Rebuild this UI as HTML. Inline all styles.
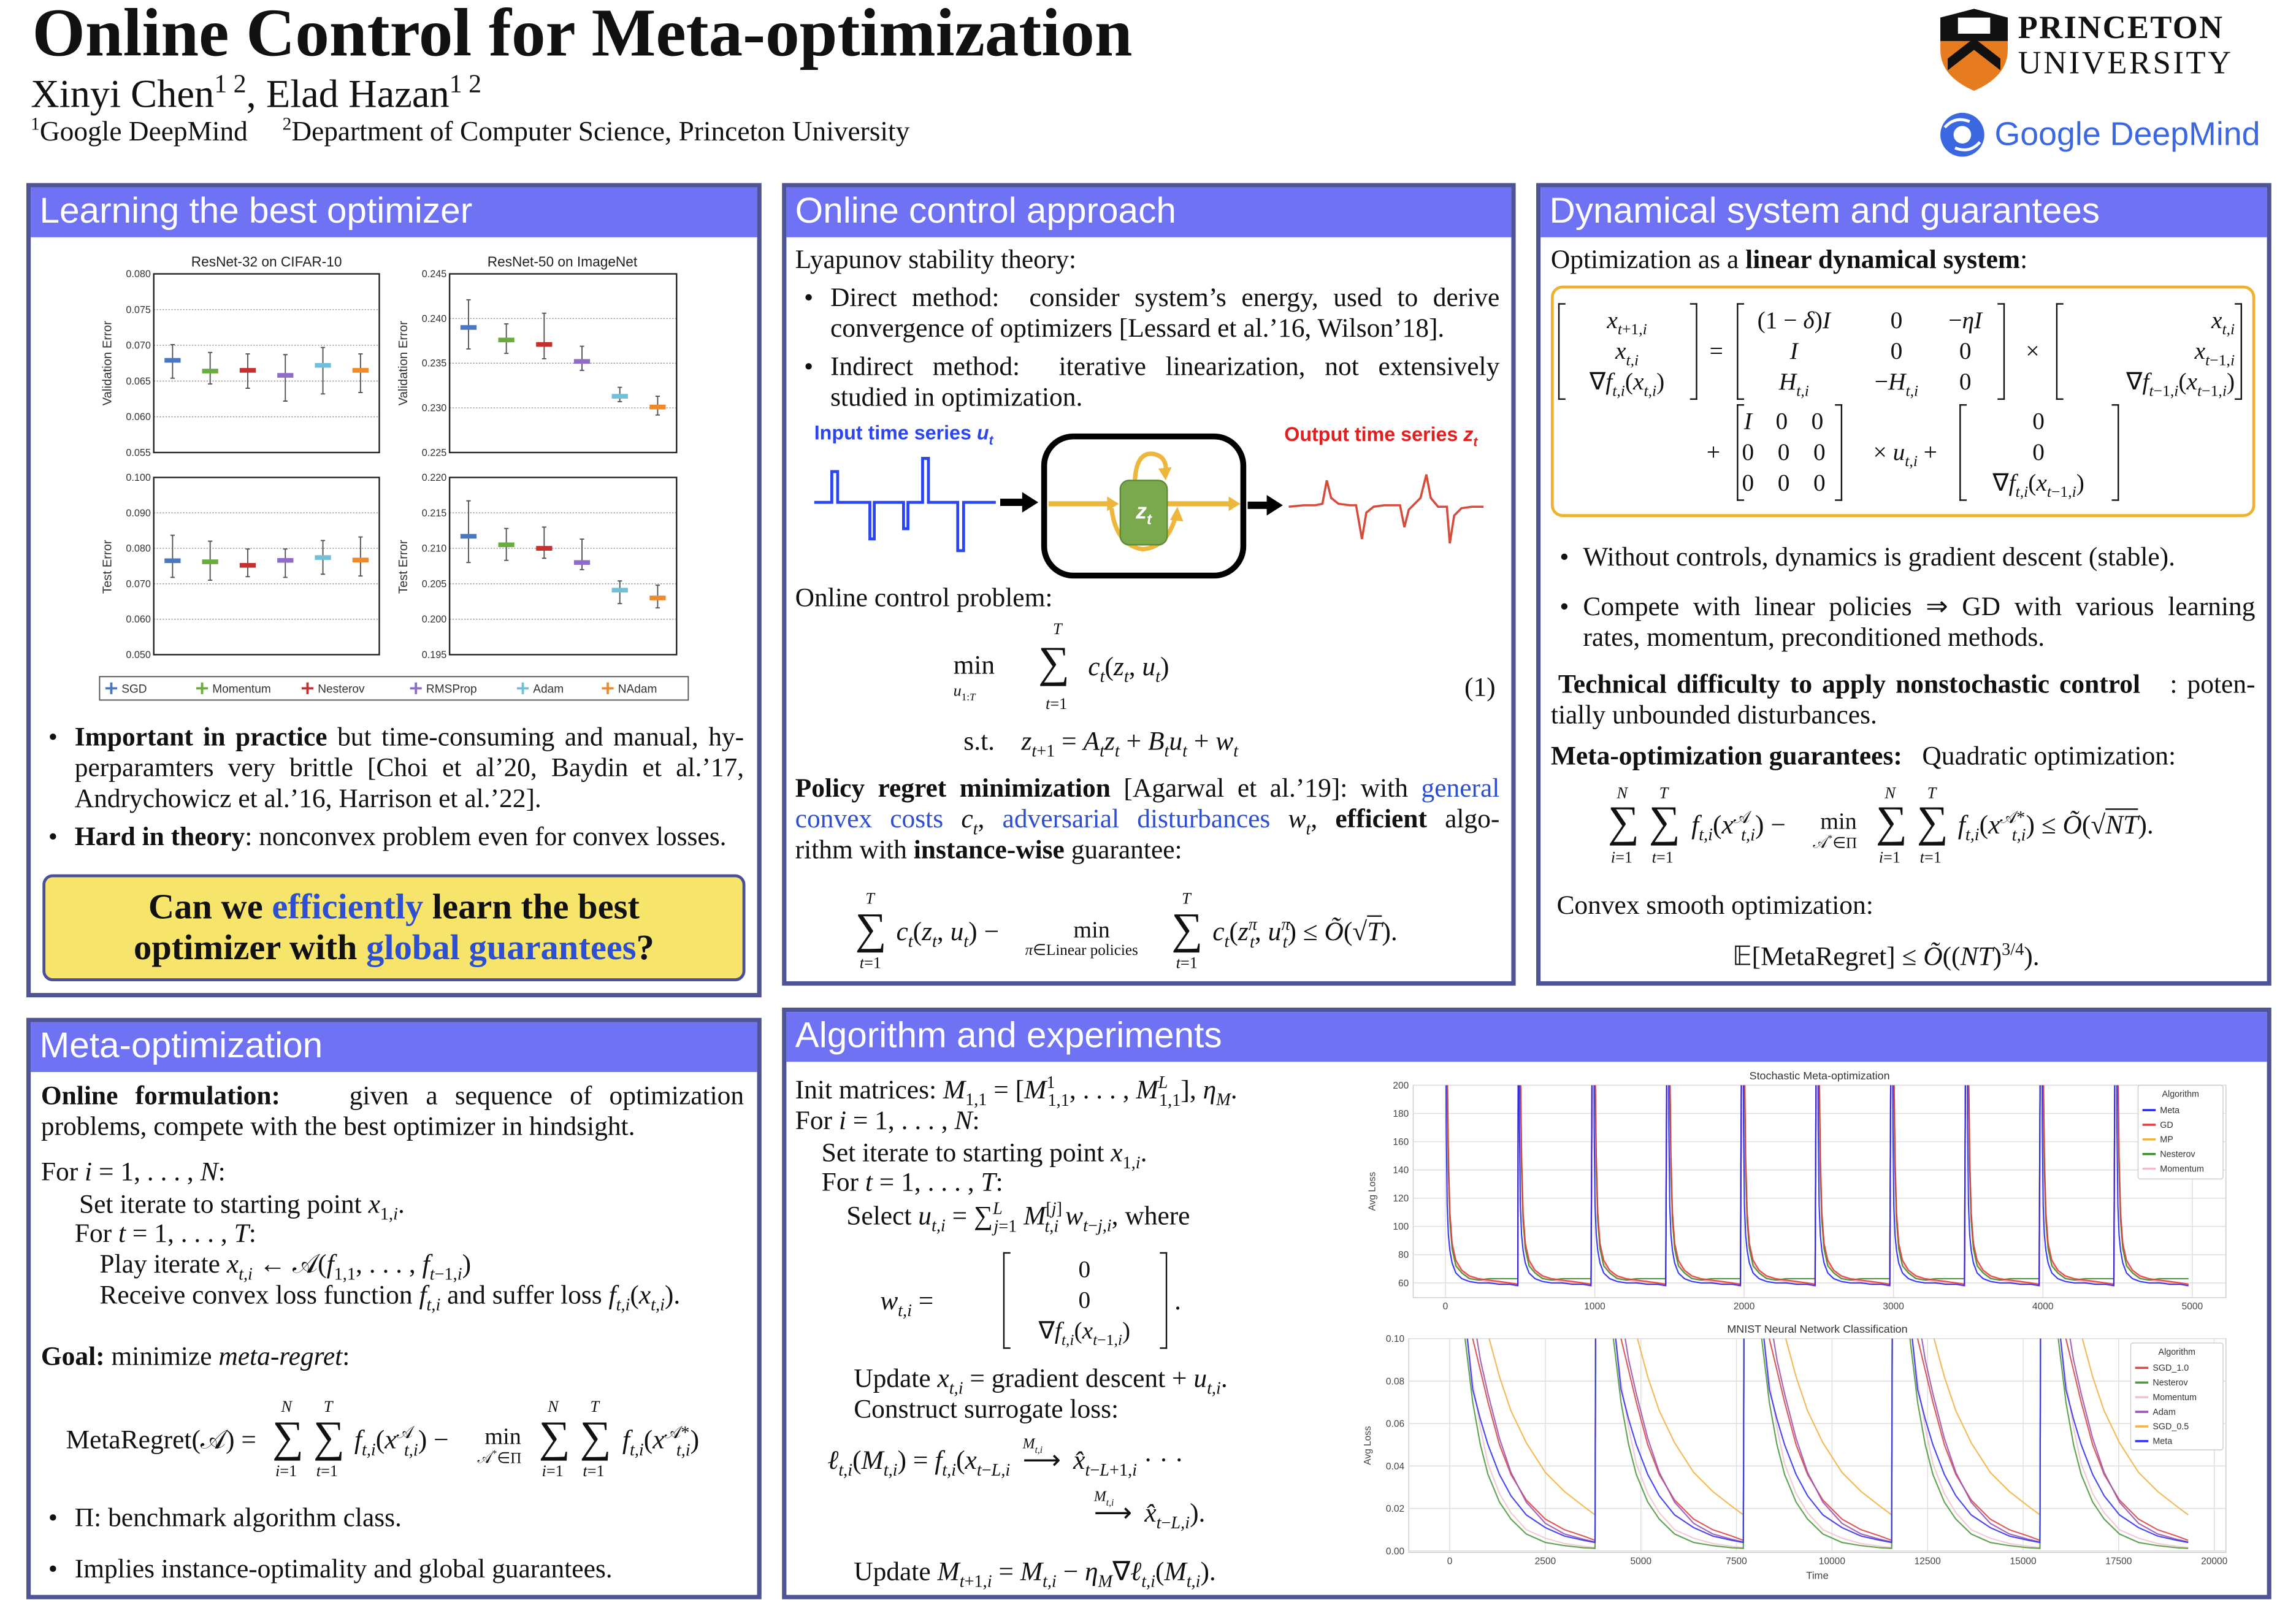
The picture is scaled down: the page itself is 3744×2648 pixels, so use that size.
<!DOCTYPE html>
<html><head><meta charset="utf-8"><style>
html,body{margin:0;padding:0;background:#fff}
body{width:3744px;height:2648px;overflow:hidden}
#root{position:absolute;left:0;top:0;width:1568px;height:1109px;transform:scale(2.388);transform-origin:0 0;font-family:"Liberation Serif",serif;color:#111}
.t{position:absolute;white-space:nowrap;font-size:18.2px;line-height:22px}
.j{text-align:justify;text-align-last:justify}
.panel{position:absolute;border:3px solid #4f5496;box-sizing:border-box;background:#fff}
.hdr{position:absolute;left:0;top:0;right:0;height:34px;background:#6e72f3;color:#fff;font-family:"Liberation Sans",sans-serif;font-size:24.5px;line-height:34px;padding-left:6px}
i{font-style:italic}
sub,sup{font-size:65%;line-height:0}
.lb,.rb{position:absolute;width:5px;border:1.4px solid #111;box-sizing:border-box}
.lb{border-right:none}.rb{border-left:none}
.c{position:absolute;white-space:nowrap;font-size:16.5px;line-height:20px;text-align:center}
.sm{position:absolute;white-space:nowrap;font-size:11px;line-height:12px;text-align:center}
.big{position:absolute;font-size:30px;line-height:30px}
</style></head><body>
<div id="root">

<div class="t" style="left:22px;top:-2px;font-size:46.5px;line-height:52px;font-weight:bold">Online Control for Meta-optimization</div>
<div class="t" style="left:21px;top:49px;font-size:27px;line-height:30px">Xinyi Chen<sup>1 2</sup>, Elad Hazan<sup>1 2</sup></div>
<div class="t" style="left:21px;top:80px;font-size:19px"><sup>1</sup>Google DeepMind &nbsp;&nbsp;&nbsp;&nbsp;<sup>2</sup>Department of Computer Science, Princeton University</div>

<svg style="position:absolute;left:1322px;top:4px" width="52" height="60" viewBox="0 0 52 60">
<path d="M3 8 L26 2 L49 8 L49 30 Q49 48 26 58 Q3 48 3 30 Z" fill="#e77b20"/>
<path d="M3 8 L26 2 L49 8 L49 24 L3 24 Z" fill="#111"/>
<path d="M8 44 L26 30 L44 44 L44 36 L26 22 L8 36 Z" fill="#111"/>
<rect x="15" y="8" width="22" height="11" fill="#fff"/>
</svg>
<div class="t" style="left:1378px;top:8px;font-size:22px;font-weight:bold;letter-spacing:1px">PRINCETON</div>
<div class="t" style="left:1378px;top:32px;font-size:22px;letter-spacing:1.5px">UNIVERSITY</div>
<svg style="position:absolute;left:1323px;top:75px" width="34" height="34" viewBox="0 0 34 34">
<circle cx="17" cy="17" r="15" fill="#3b68e0"/><circle cx="17" cy="17" r="6" fill="#fff"/>
<path d="M5 12 Q12 4 22 8" stroke="#fff" stroke-width="2" fill="none"/><path d="M29 22 Q22 30 12 26" stroke="#fff" stroke-width="2" fill="none"/>
</svg>
<div class="t" style="left:1362px;top:78px;font-family:'Liberation Sans',sans-serif;font-size:22.5px;line-height:28px;color:#3b68e0">Google DeepMind</div>

<!-- Panel 1 -->
<div class="panel" style="left:18px;top:125px;width:502px;height:556px"><div class="hdr">Learning the best optimizer</div></div>
<div class="t" style="left:33px;top:492px">•</div>
<div class="t j" style="left:51px;top:492px;width:457px"><b>Important in practice</b> but time-consuming and manual, hy-</div>
<div class="t j" style="left:51px;top:513px;width:457px">perparamters very brittle [Choi et al’20, Baydin et al.’17,</div>
<div class="t" style="left:51px;top:534px">Andrychowicz et al.’16, Harrison et al.’22].</div>
<div class="t" style="left:33px;top:560px">•</div>
<div class="t" style="left:51px;top:560px"><b>Hard in theory</b>: nonconvex problem even for convex losses.</div>
<div style="position:absolute;left:29px;top:597px;width:480px;height:73px;box-sizing:border-box;background:#f6e46b;border:2px solid #4a4f9a;border-radius:7px;text-align:center;font-weight:bold;font-size:24.5px;line-height:28px;padding-top:7px">Can we <span style="color:#2d4fd0">efficiently</span> learn the best<br>optimizer with <span style="color:#2d4fd0">global guarantees</span>?</div>

<!-- Panel 2 -->
<div class="panel" style="left:534px;top:125px;width:501px;height:548px"><div class="hdr">Online control approach</div></div>
<div class="t" style="left:543px;top:166px">Lyapunov stability theory:</div>
<div class="t" style="left:549px;top:192px">•</div>
<div class="t j" style="left:567px;top:192px;width:457px">Direct method: &nbsp;consider system’s energy, used to derive</div>
<div class="t" style="left:567px;top:213px">convergence of optimizers [Lessard et al.’16, Wilson’18].</div>
<div class="t" style="left:549px;top:239px">•</div>
<div class="t j" style="left:567px;top:239px;width:457px">Indirect method: &nbsp;iterative linearization, not extensively</div>
<div class="t" style="left:567px;top:260px">studied in optimization.</div>
<div class="t" style="left:556px;top:287px;font-family:'Liberation Sans',sans-serif;font-weight:bold;font-size:13.5px;line-height:18px;color:#2b45f0">Input time series <i>u<sub>t</sub></i></div>
<div class="t" style="left:877px;top:288px;font-family:'Liberation Sans',sans-serif;font-weight:bold;font-size:13.5px;line-height:18px;color:#e02020">Output time series <i>z<sub>t</sub></i></div>
<svg style="position:absolute;left:550px;top:290px" width="470" height="110" viewBox="550 290 470 110">
<polyline points="556,343 568,343 568,322 572,322 572,343 594,343 594,368 597,368 597,343 617,343 617,361 620,361 620,343 630,343 630,313 634,313 634,343 654,343 654,376 658,376 658,343 680,343" fill="none" stroke="#2b45f0" stroke-width="2"/>
<path d="M683 343 L700 343" stroke="#000" stroke-width="5"/><path d="M698 336 L709 343 L698 350 Z" fill="#000"/>
<rect x="713" y="298" width="136" height="95" rx="20" fill="none" stroke="#000" stroke-width="4"/>
<path d="M716 344 L758 344" stroke="#ecb73c" stroke-width="3.5"/><path d="M756 339 L764 344 L756 349Z" fill="#ecb73c"/>
<path d="M796 344 L840 344" stroke="#ecb73c" stroke-width="3.5"/><path d="M839 339 L847 344 L839 349Z" fill="#ecb73c"/>
<path d="M775 328 Q776 308 788 310 Q797 312 796 322" fill="none" stroke="#ecb73c" stroke-width="3"/><path d="M791 320 L796 328 L800 319Z" fill="#ecb73c"/>
<path d="M759 347 Q762 372 780 375 Q797 374 803 352" fill="none" stroke="#ecb73c" stroke-width="3"/><path d="M799 355 L804 346 L808 356Z" fill="#ecb73c"/>
<rect x="765" y="328" width="32" height="44" rx="6" fill="#7aa84c" stroke="#5f8a38" stroke-width="1"/>
<text x="781" y="354" text-anchor="middle" font-family="Liberation Sans" font-weight="bold" font-style="italic" font-size="15" fill="#fff">z<tspan font-size="10" dy="4">t</tspan></text>
<path d="M852 345 L866 345" stroke="#000" stroke-width="5"/><path d="M865 338 L876 345 L865 352 Z" fill="#000"/>
<polyline points="880,346 890,345 898,345 903,344 906,328 909,340 914,344 922,345 926,345 930,368 933,350 938,346 945,345 952,345 956,345 959,360 962,348 966,344 970,340 974,324 977,340 982,346 988,346 990,371 993,352 998,347 1005,346 1013,346" fill="none" stroke="#d84a3a" stroke-width="1.5"/>
</svg>
<div class="t" style="left:543px;top:397px">Online control problem:</div>
<div class="t" style="left:651px;top:443px">min</div>
<div class="sm" style="left:651px;top:466px"><i>u</i><sub>1:<i>T</i></sub></div>
<div class="big" style="left:709px;top:438px">∑</div>
<div class="sm" style="left:719px;top:424px"><i>T</i></div>
<div class="sm" style="left:714px;top:475px"><i>t</i>=1</div>
<div class="t" style="left:743px;top:444px"><i>c<sub>t</sub></i>(<i>z<sub>t</sub></i>, <i>u<sub>t</sub></i>)</div>
<div class="t" style="left:1000px;top:458px">(1)</div>
<div class="t" style="left:658px;top:495px">s.t. &nbsp;&nbsp;&nbsp;<i>z</i><sub><i>t</i>+1</sub> = <i>A<sub>t</sub>z<sub>t</sub></i> + <i>B<sub>t</sub>u<sub>t</sub></i> + <i>w<sub>t</sub></i></div>
<div class="t j" style="left:543px;top:527px;width:481px"><b>Policy regret minimization</b> [Agarwal et al.’19]: with <span style="color:#2d4fd0">general</span></div>
<div class="t j" style="left:543px;top:548px;width:481px"><span style="color:#2d4fd0">convex costs</span> <i>c<sub>t</sub></i>, <span style="color:#2d4fd0">adversarial disturbances</span> <i>w<sub>t</sub></i>, <b>efficient</b> algo-</div>
<div class="t" style="left:543px;top:569px">rithm with <b>instance-wise</b> guarantee:</div>
<div class="big" style="left:584px;top:620px">∑</div>
<div class="sm" style="left:591px;top:608px"><i>T</i></div>
<div class="sm" style="left:587px;top:652px"><i>t</i>=1</div>
<div class="t" style="left:612px;top:625px"><i>c<sub>t</sub></i>(<i>z<sub>t</sub></i>, <i>u<sub>t</sub></i>) −</div>
<div class="t" style="left:733px;top:625px;font-size:16px">min</div>
<div class="sm" style="left:700px;top:644px;font-size:10.5px"><i>π</i>∈Linear policies</div>
<div class="big" style="left:800px;top:620px">∑</div>
<div class="sm" style="left:807px;top:608px"><i>T</i></div>
<div class="sm" style="left:803px;top:652px"><i>t</i>=1</div>
<div class="t" style="left:828px;top:625px"><i>c<sub>t</sub></i>(<i>z</i><sup><i>π</i></sup><sub style="margin-left:-5px"><i>t</i></sub>, <i>u</i><sup><i>π</i></sup><sub style="margin-left:-5px"><i>t</i></sub>) ≤ <i>Õ</i>(√<span style="text-decoration:overline"><i>T</i></span>).</div>

<!-- Panel 3 -->
<div class="panel" style="left:1049px;top:125px;width:502px;height:548px"><div class="hdr">Dynamical system and guarantees</div></div>
<div class="t" style="left:1059px;top:166px">Optimization as a <b>linear dynamical system</b>:</div>
<div style="position:absolute;left:1059px;top:195px;width:481px;height:158px;box-sizing:border-box;border:2px solid #f0b030;border-radius:8px"></div>
<div class="lb" style="left:1064px;top:207px;height:66px"></div>
<div class="rb" style="left:1154px;top:207px;height:66px"></div>
<div class="c" style="left:1068px;top:209px;width:86px"><i>x</i><sub><i>t</i>+1,<i>i</i></sub></div>
<div class="c" style="left:1068px;top:230px;width:86px"><i>x<sub>t,i</sub></i></div>
<div class="c" style="left:1068px;top:251px;width:86px">∇<i>f<sub>t,i</sub></i>(<i>x<sub>t,i</sub></i>)</div>
<div class="c" style="left:1164px;top:230px;width:16px">=</div>
<div class="lb" style="left:1186px;top:207px;height:66px"></div>
<div class="rb" style="left:1364px;top:207px;height:66px"></div>
<div class="c" style="left:1190px;top:209px;width:70px">(1 − <i>δ</i>)<i>I</i></div>
<div class="c" style="left:1275px;top:209px;width:40px">0</div>
<div class="c" style="left:1320px;top:209px;width:44px">−<i>ηI</i></div>
<div class="c" style="left:1190px;top:230px;width:70px"><i>I</i></div>
<div class="c" style="left:1275px;top:230px;width:40px">0</div>
<div class="c" style="left:1320px;top:230px;width:44px">0</div>
<div class="c" style="left:1190px;top:251px;width:70px"><i>H<sub>t,i</sub></i></div>
<div class="c" style="left:1268px;top:251px;width:54px">−<i>H<sub>t,i</sub></i></div>
<div class="c" style="left:1320px;top:251px;width:44px">0</div>
<div class="c" style="left:1380px;top:230px;width:16px">×</div>
<div class="lb" style="left:1404px;top:207px;height:66px"></div>
<div class="rb" style="left:1526px;top:207px;height:66px"></div>
<div class="c" style="left:1408px;top:209px;width:118px;text-align:right"><i>x<sub>t,i</sub></i></div>
<div class="c" style="left:1408px;top:230px;width:118px;text-align:right"><i>x</i><sub><i>t</i>−1,<i>i</i></sub></div>
<div class="c" style="left:1408px;top:251px;width:118px;text-align:right">∇<i>f</i><sub><i>t</i>−1,<i>i</i></sub>(<i>x</i><sub><i>t</i>−1,<i>i</i></sub>)</div>
<div class="c" style="left:1162px;top:299px;width:16px">+</div>
<div class="lb" style="left:1186px;top:276px;height:66px"></div>
<div class="rb" style="left:1253px;top:276px;height:66px"></div>
<div class="c" style="left:1189px;top:278px;width:64px;letter-spacing:6px"><i>I</i> 0 0</div>
<div class="c" style="left:1189px;top:299px;width:64px;letter-spacing:6px">0 0 0</div>
<div class="c" style="left:1189px;top:320px;width:64px;letter-spacing:6px">0 0 0</div>
<div class="c" style="left:1266px;top:299px;width:70px">× <i>u<sub>t,i</sub></i> +</div>
<div class="lb" style="left:1338px;top:276px;height:66px"></div>
<div class="rb" style="left:1442px;top:276px;height:66px"></div>
<div class="c" style="left:1342px;top:278px;width:100px">0</div>
<div class="c" style="left:1342px;top:299px;width:100px">0</div>
<div class="c" style="left:1342px;top:320px;width:100px">∇<i>f<sub>t,i</sub></i>(<i>x</i><sub><i>t</i>−1,<i>i</i></sub>)</div>
<div class="t" style="left:1065px;top:369px">•</div>
<div class="t" style="left:1081px;top:369px">Without controls, dynamics is gradient descent (stable).</div>
<div class="t" style="left:1065px;top:403px">•</div>
<div class="t j" style="left:1081px;top:403px;width:459px">Compete with linear policies ⇒ GD with various learning</div>
<div class="t" style="left:1081px;top:424px">rates, momentum, preconditioned methods.</div>
<div class="t j" style="left:1064px;top:456px;width:476px"><b>Technical difficulty to apply nonstochastic control</b> &nbsp;&nbsp;: poten-</div>
<div class="t" style="left:1059px;top:477px">tially unbounded disturbances.</div>
<div class="t" style="left:1059px;top:505px"><b>Meta-optimization guarantees:</b> &nbsp;&nbsp;Quadratic optimization:</div>
<div class="big" style="left:1098px;top:547px">∑</div>
<div class="sm" style="left:1104px;top:536px"><i>N</i></div>
<div class="sm" style="left:1100px;top:580px"><i>i</i>=1</div>
<div class="big" style="left:1126px;top:547px">∑</div>
<div class="sm" style="left:1133px;top:536px"><i>T</i></div>
<div class="sm" style="left:1128px;top:580px"><i>t</i>=1</div>
<div class="t" style="left:1155px;top:552px"><i>f<sub>t,i</sub></i>(<i>x</i><sup>𝒜</sup><sub style="margin-left:-6px"><i>t,i</i></sub>) −</div>
<div class="t" style="left:1243px;top:551px;font-size:16px">min</div>
<div class="sm" style="left:1238px;top:571px;font-size:10.5px">𝒜<sup>*</sup>∈Π</div>
<div class="big" style="left:1281px;top:547px">∑</div>
<div class="sm" style="left:1287px;top:536px"><i>N</i></div>
<div class="sm" style="left:1283px;top:580px"><i>i</i>=1</div>
<div class="big" style="left:1309px;top:547px">∑</div>
<div class="sm" style="left:1316px;top:536px"><i>T</i></div>
<div class="sm" style="left:1311px;top:580px"><i>t</i>=1</div>
<div class="t" style="left:1337px;top:552px"><i>f<sub>t,i</sub></i>(<i>x</i><sup>𝒜*</sup><sub style="margin-left:-9px"><i>t,i</i></sub>) ≤ <i>Õ</i>(√<span style="text-decoration:overline"><i>NT</i></span>).</div>
<div class="t" style="left:1063px;top:607px">Convex smooth optimization:</div>
<div class="t" style="left:1183px;top:642px">𝔼[MetaRegret] ≤ <i>Õ</i>((<i>NT</i>)<sup>3/4</sup>).</div>

<!-- Panel 4 -->
<div class="panel" style="left:18px;top:695px;width:502px;height:397px"><div class="hdr">Meta-optimization</div></div>
<div class="t j" style="left:28px;top:737px;width:480px"><b>Online formulation:</b> &nbsp;&nbsp;&nbsp;given a sequence of optimization</div>
<div class="t" style="left:28px;top:758px">problems, compete with the best optimizer in hindsight.</div>
<div class="t" style="left:28px;top:789px">For <i>i</i> = 1, . . . , <i>N</i>:</div>
<div class="t" style="left:54px;top:811px">Set iterate to starting point <i>x</i><sub>1,<i>i</i></sub>.</div>
<div class="t" style="left:51px;top:831px">For <i>t</i> = 1, . . . , <i>T</i>:</div>
<div class="t" style="left:68px;top:852px">Play iterate <i>x<sub>t,i</sub></i> ← 𝒜(<i>f</i><sub>1,1</sub>, . . . , <i>f</i><sub><i>t</i>−1,<i>i</i></sub>)</div>
<div class="t" style="left:68px;top:873px">Receive convex loss function <i>f<sub>t,i</sub></i> and suffer loss <i>f<sub>t,i</sub></i>(<i>x<sub>t,i</sub></i>).</div>
<div class="t" style="left:28px;top:915px"><b>Goal:</b> minimize <i>meta-regret</i>:</div>
<div class="t" style="left:45px;top:972px">MetaRegret(𝒜) =</div>
<div class="big" style="left:186px;top:967px">∑</div>
<div class="sm" style="left:192px;top:955px"><i>N</i></div>
<div class="sm" style="left:188px;top:999px"><i>i</i>=1</div>
<div class="big" style="left:214px;top:967px">∑</div>
<div class="sm" style="left:221px;top:955px"><i>T</i></div>
<div class="sm" style="left:216px;top:999px"><i>t</i>=1</div>
<div class="t" style="left:242px;top:972px"><i>f<sub>t,i</sub></i>(<i>x</i><sup>𝒜</sup><sub style="margin-left:-6px"><i>t,i</i></sub>) −</div>
<div class="t" style="left:331px;top:971px;font-size:16px">min</div>
<div class="sm" style="left:326px;top:991px;font-size:10.5px">𝒜<sup>*</sup>∈Π</div>
<div class="big" style="left:368px;top:967px">∑</div>
<div class="sm" style="left:374px;top:955px"><i>N</i></div>
<div class="sm" style="left:370px;top:999px"><i>i</i>=1</div>
<div class="big" style="left:396px;top:967px">∑</div>
<div class="sm" style="left:403px;top:955px"><i>T</i></div>
<div class="sm" style="left:398px;top:999px"><i>t</i>=1</div>
<div class="t" style="left:425px;top:972px"><i>f<sub>t,i</sub></i>(<i>x</i><sup>𝒜*</sup><sub style="margin-left:-9px"><i>t,i</i></sub>)</div>
<div class="t" style="left:33px;top:1025px">•</div>
<div class="t" style="left:51px;top:1025px">Π: benchmark algorithm class.</div>
<div class="t" style="left:33px;top:1060px">•</div>
<div class="t" style="left:51px;top:1060px">Implies instance-optimality and global guarantees.</div>

<!-- Panel 5 -->
<div class="panel" style="left:534px;top:688px;width:1017px;height:404px"><div class="hdr">Algorithm and experiments</div></div>
<div class="t" style="left:543px;top:733px">Init matrices: <i>M</i><sub>1,1</sub> = [<i>M</i><sup>1</sup><sub style="margin-left:-5px">1,1</sub>, . . . , <i>M</i><sup><i>L</i></sup><sub style="margin-left:-6px">1,1</sub>], <i>η<sub>M</sub></i>.</div>
<div class="t" style="left:543px;top:754px">For <i>i</i> = 1, . . . , <i>N</i>:</div>
<div class="t" style="left:561px;top:776px">Set iterate to starting point <i>x</i><sub>1,<i>i</i></sub>.</div>
<div class="t" style="left:561px;top:796px">For <i>t</i> = 1, . . . , <i>T</i>:</div>
<div class="t" style="left:578px;top:819px">Select <i>u<sub>t,i</sub></i> = ∑<sup><i>L</i></sup><sub style="margin-left:-6px"><i>j</i>=1</sub> <i>M</i><sup>[<i>j</i>]</sup><sub style="margin-left:-12px"><i>t,i</i></sub> <i>w</i><sub><i>t</i>−<i>j,i</i></sub>, where</div>
<div class="t" style="left:601px;top:877px"><i>w<sub>t,i</sub></i> =</div>
<div class="lb" style="left:685px;top:855px;height:66px"></div>
<div class="rb" style="left:792px;top:855px;height:66px"></div>
<div class="c" style="left:689px;top:857px;width:103px">0</div>
<div class="c" style="left:689px;top:878px;width:103px">0</div>
<div class="c" style="left:689px;top:899px;width:103px">∇<i>f<sub>t,i</sub></i>(<i>x</i><sub><i>t</i>−1,<i>i</i></sub>)</div>
<div class="t" style="left:802px;top:877px">.</div>
<div class="t" style="left:583px;top:930px">Update <i>x<sub>t,i</sub></i> = gradient descent + <i>u<sub>t,i</sub></i>.</div>
<div class="t" style="left:583px;top:951px">Construct surrogate loss:</div>
<div class="t" style="left:565px;top:986px"><i>ℓ<sub>t,i</sub></i>(<i>M<sub>t,i</sub></i>) = <i>f<sub>t,i</sub></i>(<i>x</i><sub><i>t</i>−<i>L,i</i></sub> <span style="display:inline-block;position:relative;width:34px;text-align:center">⟶<span style="position:absolute;left:4px;top:-10px;font-size:10px"><i>M<sub>t,i</sub></i></span></span> <i>x̂</i><sub><i>t</i>−<i>L</i>+1,<i>i</i></sub> · · ·</div>
<div class="t" style="left:743px;top:1022px"><span style="display:inline-block;position:relative;width:34px;text-align:center">⟶<span style="position:absolute;left:4px;top:-10px;font-size:10px"><i>M<sub>t,i</sub></i></span></span> <i>x̂</i><sub><i>t</i>−<i>L,i</i></sub>).</div>
<div class="t" style="left:583px;top:1062px">Update <i>M</i><sub><i>t</i>+1,<i>i</i></sub> = <i>M<sub>t,i</sub></i> − <i>η<sub>M</sub></i>∇<i>ℓ<sub>t,i</sub></i>(<i>M<sub>t,i</sub></i>).</div>

<svg id="charts" style="position:absolute;left:0;top:0" width="1568" height="1109" viewBox="0 0 1568 1109" font-family="Liberation Sans, sans-serif">
<defs>
<clipPath id="clip1"><rect x="965" y="741" width="555" height="145"/></clipPath>
<clipPath id="clip2"><rect x="962" y="914" width="558" height="146"/></clipPath>
</defs>
</svg>
</div>

<script>
// ---------- Error bar charts data ----------
const optimizers = ["SGD","Momentum","Nesterov","RMSProp","Adam","NAdam"];
const optColors = ["#4a78c0","#6aad3d","#c33030","#8e6cc8","#6fc0d8","#ee8a2c"];
const cifarValMean = [0.0679,0.0664,0.0665,0.0658,0.0672,0.0665];
const cifarValLo = [0.0654,0.0646,0.0640,0.0622,0.0632,0.0634];
const cifarValHi = [0.0701,0.0690,0.0688,0.0687,0.0697,0.0688];
const cifarTestMean = [0.0765,0.0762,0.0752,0.0766,0.0774,0.0767];
const cifarTestLo = [0.0718,0.0710,0.0720,0.0718,0.0727,0.0722];
const cifarTestHi = [0.0837,0.0820,0.0798,0.0798,0.0822,0.0832];
const imnetValMean = [0.2390,0.2376,0.2371,0.2352,0.2313,0.2301];
const imnetValLo = [0.2366,0.2361,0.2355,0.2342,0.2307,0.2292];
const imnetValHi = [0.2421,0.2394,0.2406,0.2369,0.2323,0.2313];
const imnetTestMean = [0.2117,0.2105,0.2100,0.2080,0.2041,0.2030];
const imnetTestLo = [0.2080,0.2083,0.2086,0.2070,0.2022,0.2016];
const imnetTestHi = [0.2167,0.2128,0.2130,0.2113,0.2054,0.2048];
const cifarValTicks = [0.055,0.060,0.065,0.070,0.075,0.080];
const cifarTestTicks = [0.050,0.060,0.070,0.080,0.090,0.100];
const imnetValTicks = [0.225,0.230,0.235,0.240,0.245];
const imnetTestTicks = [0.195,0.200,0.205,0.210,0.215,0.220];

// ---------- Stochastic meta-optimization data ----------
const stochSegStarts = [0,490,990,1490,1990,2490,2990,3490,3990,4490];
const stochOffsets = [0,6,12,20,30,45,70,110,160,220,290,360,430,485];
const stochMeta = [400,170,115,94,83,74,67,63,61,60,60,59,59,58];
const stochGD = [400,330,220,150,110,88,76,69,65,63,62,61,60,59];
const stochMP = [400,330,215,145,106,86,74,68,64,62,61,60,60,59];
const stochNesterov = [400,330,210,140,104,84,72,67,63,62,63,63,63,63];
const stochMomentum = [400,330,215,145,106,86,74,68,64,62,61,60,60,59];
const stochXTicks = [0,1000,2000,3000,4000,5000];
const stochYTicks = [60,80,100,120,140,160,180,200];

// ---------- MNIST data ----------
const mnistSegStarts = [0,3880,7760,11640,15520];
const mnistOffsets = [0,400,600,800,1000,1300,1600,2000,2500,3000,3500,3800];
const mnistSGD10 = [0.5,0.13,0.100,0.085,0.070,0.050,0.036,0.024,0.015,0.010,0.007,0.005];
const mnistNesterov = [0.5,0.100,0.070,0.050,0.036,0.023,0.015,0.008,0.004,0.0025,0.0015,0.0012];
const mnistMomentum = [0.5,0.110,0.080,0.058,0.041,0.027,0.018,0.010,0.006,0.0035,0.0022,0.0016];
const mnistAdam = [0.5,0.16,0.112,0.090,0.074,0.053,0.037,0.023,0.013,0.008,0.0055,0.0042];
const mnistSGD05 = [0.5,0.20,0.150,0.122,0.102,0.082,0.066,0.051,0.037,0.028,0.021,0.017];
const mnistMeta = [0.5,0.110,0.076,0.062,0.050,0.036,0.026,0.017,0.011,0.007,0.005,0.004];
const mnistXTicks = [0,2500,5000,7500,10000,12500,15000,17500,20000];
const mnistYTicks = [0.00,0.02,0.04,0.06,0.08,0.10];

const NS = "http://www.w3.org/2000/svg";
const svg = document.getElementById("charts");
function mk(tag, attrs, parent){
  const e = document.createElementNS(NS, tag);
  for (const k in attrs) e.setAttribute(k, attrs[k]);
  (parent||svg).appendChild(e);
  return e;
}
function txt(x,y,s,size,anchor,fill,parent){
  const e = mk("text",{x:x,y:y,"font-size":size,"text-anchor":anchor||"middle",fill:fill||"#333"},parent);
  e.textContent = s;
  return e;
}

function errChart(name, box, yMin, yMax, ticks, means, lo, hi){
  const g = mk("g",{});
  
  
  const ys = v => box.y + box.h - (v - yMin)/(yMax - yMin)*box.h;
  const xs = i => box.x + (i + 0.5)/optimizers.length*box.w;
  ticks.forEach(t => {
    const y = ys(t);
    if (t > yMin + 1e-9 && t < yMax - 1e-9){
      const gl = mk("line",{x1:box.x,x2:box.x+box.w,y1:y,y2:y,stroke:"#999","stroke-width":0.6,"stroke-dasharray":"1,1"},g);
      
      
    }
    const tl = txt(box.x-2, y+2.3, t.toFixed(3), 6.8, "end", "#333", g);
    
    
  });
  means.forEach((m,i) => {
    const x = xs(i);
    const eb = mk("path",{d:`M${x} ${ys(lo[i])}V${ys(hi[i])}M${x-1.5} ${ys(lo[i])}H${x+1.5}M${x-1.5} ${ys(hi[i])}H${x+1.5}`,stroke:"#555","stroke-width":0.8,fill:"none"},g);
    
    
    const mr = mk("rect",{x:x-5.5,y:ys(m)-1.6,width:11,height:3.2,fill:optColors[i]},g);
    
    
  });
  const fr = mk("rect",{x:box.x,y:box.y,width:box.w,height:box.h,fill:"none",stroke:"#222","stroke-width":1},g);
  
  
}
errChart("cifar-validation-chart",{x:105,y:187,w:154,h:122},0.055,0.080,cifarValTicks,cifarValMean,cifarValLo,cifarValHi);
errChart("imagenet-validation-chart",{x:307,y:187,w:155,h:122},0.225,0.245,imnetValTicks,imnetValMean,imnetValLo,imnetValHi);
errChart("cifar-test-chart",{x:105,y:326,w:154,h:121},0.050,0.100,cifarTestTicks,cifarTestMean,cifarTestLo,cifarTestHi);
errChart("imagenet-test-chart",{x:307,y:326,w:155,h:121},0.195,0.220,imnetTestTicks,imnetTestMean,imnetTestLo,imnetTestHi);
[["ResNet-32 on CIFAR-10",182,182,"cifar-title"],["ResNet-50 on ImageNet",384,182,"imagenet-title"]].forEach(a=>{
  const t = txt(a[1],a[2],a[0],9.5,"middle","#222");
  
  
});
[["Validation Error",76,248],["Test Error",76,387],["Validation Error",278,248],["Test Error",278,387]].forEach(a=>{
  const t = txt(0,0,a[0],8.5,"middle","#333");
  t.setAttribute("transform",`translate(${a[1]},${a[2]}) rotate(-90)`);
  
  
});
{
  const lg = mk("rect",{x:68,y:462,width:402,height:16,fill:"#fff",stroke:"#555","stroke-width":0.8});
  
  
  const lx = [76,138,210,284,357,415];
  optimizers.forEach((o,i)=>{
    const m = mk("path",{d:`M${lx[i]-4} 470H${lx[i]+4}M${lx[i]} 466V474`,stroke:optColors[i],"stroke-width":1.6});
    
    
    const t = txt(lx[i]+7,473,o,8,"start","#333");
    
    
  });
}

function lineChart(name, box, xMin, xMax, yMin, yMax, xTicks, yTicks, yFmt, segStarts, offsets, seriesVals, names, colors, clip, title, xlabel, legendBox, legendNames, legendColors){
  const g = mk("g",{});
  
  
  const xs = v => box.px0 + (v - xMin)/(xMax - xMin)*(box.px1 - box.px0);
  const ys = v => box.py0 + (v - yMin)/(yMax - yMin)*(box.py1 - box.py0);
  const bg = mk("rect",{x:box.x,y:box.y,width:box.w,height:box.h,fill:"#fff",stroke:"#ccc","stroke-width":0.6},g);
  
  
  xTicks.forEach(t=>{
    const gl = mk("line",{x1:xs(t),x2:xs(t),y1:box.y,y2:box.y+box.h,stroke:"#ddd","stroke-width":0.6},g);
    
    
    const tl = txt(xs(t),box.y+box.h+8,String(t),6.5,"middle","#444",g);
    
    
  });
  yTicks.forEach(t=>{
    const gl = mk("line",{x1:box.x,x2:box.x+box.w,y1:ys(t),y2:ys(t),stroke:"#ddd","stroke-width":0.6},g);
    
    
    const tl = txt(box.x-3,ys(t)+2.3,yFmt(t),6.5,"end","#444",g);
    
    
  });
  seriesVals.forEach((vals,si)=>{
    const pts = [];
    segStarts.forEach(s=>{ offsets.forEach((o,k)=>{ pts.push(xs(s+o).toFixed(2)+","+ys(vals[k]).toFixed(2)); }); });
    const pl = mk("polyline",{points:pts.join(" "),fill:"none",stroke:colors[si],"stroke-width":0.9,"clip-path":`url(#${clip})`,opacity:0.9},g);
    
    
  });
  const tt = txt(box.x+box.w/2,box.y-4,title,7.5,"middle","#333",g);
  
  
  const yl = txt(0,0,"Avg Loss",6.5,"middle","#444",g);
  yl.setAttribute("transform",`translate(${box.x-26},${box.y+box.h/2}) rotate(-90)`);
  
  
  if (xlabel){
    const xl = txt(box.x+box.w/2,box.y+box.h+18,xlabel,7,"middle","#444",g);
    
    
  }
  const lb = mk("rect",{x:legendBox.x,y:legendBox.y,width:legendBox.w,height:legendBox.h,fill:"#fff",stroke:"#ccc","stroke-width":0.6,rx:1.5},g);
  
  
  const lt = txt(legendBox.x+legendBox.w/2,legendBox.y+8,"Algorithm",6,"middle","#333",g);
  
  
  legendNames.forEach((n,i)=>{
    const y = legendBox.y + 17 + i*legendBox.step;
    const ln = mk("line",{x1:legendBox.x+3,x2:legendBox.x+12,y1:y,y2:y,stroke:legendColors[i],"stroke-width":1.5},g);
    
    
    const t = txt(legendBox.x+15,y+2,n,6,"start","#333",g);
    
    
  });
}
lineChart("stochastic-meta-optimization-chart",
  {x:965,y:741,w:555,h:145,px0:987,px1:1497,py0:885.6,py1:741},
  0,5000,50,200,stochXTicks,stochYTicks,t=>String(t),
  stochSegStarts,stochOffsets,[stochMP,stochMomentum,stochNesterov,stochGD,stochMeta],
  ["MP","Momentum","Nesterov","GD","Meta"],["#f2b233","#f3bccb","#3d8c2c","#e33a3a","#2424ff"],
  "clip1","Stochastic Meta-optimization",null,{x:1460,y:741,w:58,h:64,step:10},
  ["Meta","GD","MP","Nesterov","Momentum"],["#2424ff","#e33a3a","#f2b233","#3d8c2c","#f3bccb"]);
lineChart("mnist-classification-chart",
  {x:962,y:914,w:558,h:146,px0:990,px1:1512,py0:1059,py1:914},
  0,20000,0,0.10,mnistXTicks,mnistYTicks,t=>t.toFixed(2),
  mnistSegStarts,mnistOffsets,[mnistSGD05,mnistSGD10,mnistAdam,mnistMomentum,mnistNesterov,mnistMeta],
  ["SGD_0.5","SGD_1.0","Adam","Momentum","Nesterov","Meta"],["#f2b445","#d94848","#9a55b5","#f2c4d2","#4f9a3c","#3434f0"],
  "clip2","MNIST Neural Network Classification","Time",{x:1455,y:917,w:63,h:73,step:10},
  ["SGD_1.0","Nesterov","Momentum","Adam","SGD_0.5","Meta"],["#d94848","#4f9a3c","#f2c4d2","#9a55b5","#f2b445","#3434f0"]);
</script>
</body></html>
